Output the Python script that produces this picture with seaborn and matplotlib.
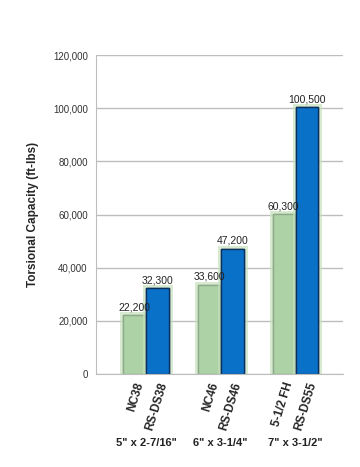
import numpy as np
import pandas as pd
import matplotlib
matplotlib.use("Agg")
import matplotlib.pyplot as plt
import matplotlib.patheffects as pe
import seaborn as sns

# data
groups = ['5" x 2-7/16"', '6" x 3-1/4"', '7" x 3-1/2"']
api_names = ["NC38", "NC46", "5-1/2 FH"]
rs_names = ["RS-DS38", "RS-DS46", "RS-DS55"]
api_values = [22200, 33600, 60300]
rs_values = [32300, 47200, 100500]

df = pd.DataFrame({
    "group": groups * 2,
    "kind": ["API"] * 3 + ["RS"] * 3,
    "value": api_values + rs_values,
})

sns.set_style("white")
plt.rcParams["font.family"] = ["Liberation Sans", "DejaVu Sans"]

fig = plt.figure(figsize=(3.6, 4.67), dpi=100)
ax = fig.add_axes([0.267, 0.199, 0.686, 0.683])

sns.barplot(data=df, x="group", y="value", hue="kind", order=groups,
            hue_order=["API", "RS"], palette=["#acd2a6", "#0a71c8"],
            width=0.62, gap=0.03, ax=ax, legend=False, saturation=1)

glow = [pe.withStroke(linewidth=5, foreground="#c6e2bd", alpha=0.7), pe.Normal()]
for bar in ax.patches:
    if bar.get_height() == 0:
        continue
    fc = bar.get_facecolor()
    if fc[0] < 0.3:
        bar.set_edgecolor("#0c2f5e")
    else:
        bar.set_edgecolor("#8eaa8a")
    bar.set_linewidth(1.0)
    bar.set_path_effects(glow)

for cont in ax.containers:
    ax.bar_label(cont, labels=[f"{v:,.0f}" for v in cont.datavalues],
                 fontsize=7.5, color="#222222", padding=2)

ax.set_ylim(0, 120000)
ax.set_xlim(-0.67, 2.64)
ax.set_yticks(np.arange(0, 120001, 20000))
ax.set_yticklabels([f"{v:,}" for v in range(0, 120001, 20000)],
                   fontsize=7, color="#333333")
ax.yaxis.grid(True, color="#bdbdbd", linewidth=1)
ax.set_axisbelow(True)
ax.set_ylabel("Torsional Capacity (ft-lbs)", fontsize=8.5, fontweight="bold",
              labelpad=10)
ax.set_xlabel("")

off = 0.155
ticks, labels = [], []
for i in range(len(groups)):
    ticks += [i - off, i + off]
    labels += [api_names[i], rs_names[i]]
ax.set_xticks(ticks)
ax.set_xticklabels(labels, rotation=73, ha="right", rotation_mode="anchor",
                   fontsize=8.5, fontweight="bold")
ax.tick_params(axis="x", length=0, pad=5)
ax.tick_params(axis="y", length=0, pad=6)

for i, g in enumerate(groups):
    ax.text(i, -0.215, g, transform=ax.get_xaxis_transform(), ha="center",
            va="center", fontsize=8, fontweight="bold", color="#222222")

for s in ["top", "right"]:
    ax.spines[s].set_visible(False)
for s in ["left", "bottom"]:
    ax.spines[s].set_color("#bdbdbd")

fig.savefig("out.png", dpi=100)
